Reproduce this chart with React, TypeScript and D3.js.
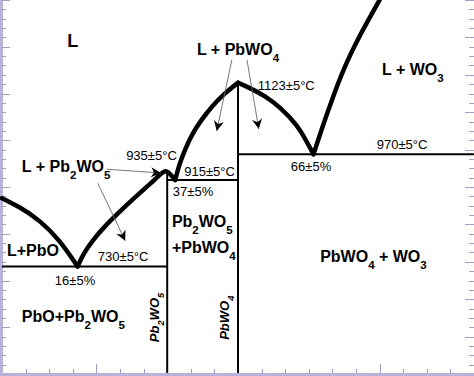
import * as d3 from 'd3';
import React, { useEffect, useRef } from 'react';

// liquidus branches: [mol% WO3, T °C]
const leftLiquidus = [[0, 876], [3.8, 857], [8, 829], [12.3, 786], [16, 730]];
const pb2wo5Branch = [[16, 730], [17.4, 760], [19.3, 787], [21.6, 814], [24.4, 842], [27.5, 872], [30.9, 902], [33.5, 927], [34.7, 937], [35.7, 927], [36.7, 915]];
const pbwo4Left = [[36.7, 915], [37.5, 947], [38.8, 981], [40.25, 1013], [42.2, 1043], [44.5, 1073], [47, 1099], [50, 1123]];
const pbwo4Right = [[50, 1123], [52.5, 1112], [55.7, 1095], [58.9, 1071], [62.5, 1033], [64.4, 1000], [66, 970]];
const wo3Liquidus = [[66, 970], [67.8, 1026], [69.5, 1075], [72.2, 1150], [75.8, 1225], [80, 1300]];

// invariant lines
const isotherms = [
  { t: 730, from: 0, to: 35 },
  { t: 915, from: 35, to: 50 },
  { t: 970, from: 50, to: 100 },
];
const compounds = [
  { c: 35, top: 935 },
  { c: 50, top: 1123 },
];

// annotations, placed in data units
const labels = [
  { text: 'L', c: 13.8, t: 1199, size: 18, bold: true },
  { text: 'L + PbWO_4', c: 41.3, t: 1182, size: 16, bold: true },
  { text: 'L + WO_3', c: 80.5, t: 1140, size: 16, bold: true },
  { text: '1123±5°C', c: 54.2, t: 1107, size: 13 },
  { text: 'L + Pb_2WO_5', c: 4.2, t: 932, size: 16, bold: true },
  { text: '935±5°C', c: 26.3, t: 958, size: 13 },
  { text: '915±5°C', c: 38.6, t: 923.5, size: 13 },
  { text: '37±5%', c: 36.2, t: 881, size: 13 },
  { text: 'Pb_2WO_5', c: 36, t: 814, size: 16, bold: true },
  { text: '+PbWO_4', c: 36, t: 759, size: 16, bold: true },
  { text: '66±5%', c: 61.2, t: 934, size: 13 },
  { text: '970±5°C', c: 79.4, t: 981, size: 13 },
  { text: 'L+PbO', c: 1.05, t: 752, size: 16, bold: true },
  { text: '730±5°C', c: 20.3, t: 742, size: 13 },
  { text: '16±5%', c: 11.2, t: 690, size: 13 },
  { text: 'PbO+Pb_2WO_5', c: 4.2, t: 611, size: 16, bold: true },
  { text: 'PbWO_4 + WO_3', c: 67.4, t: 740, size: 16, bold: true },
];
const phaseNames = [
  { text: 'Pb_2WO_5', c: 33.3, t: 568 },
  { text: 'PbWO_4', c: 48.1, t: 573 },
];
const arrows = [
  [[48.7, 1172], [45.5, 1020]],
  [[51.9, 1172], [54.4, 1024]],
  [[22.2, 938], [33.7, 930]],
  [[20.3, 908], [26.1, 785]],
];

const W = 474;
const H = 376;
const FONT = '"Liberation Sans", Arial, sans-serif';

const addRich = (sel, str, shift) => {
  const parts = str.split(/(_\d)/).filter(p => p !== '');
  let down = false;
  parts.forEach(p => {
    if (p[0] === '_') {
      sel.append('tspan').attr('dy', shift).attr('font-size', '0.72em').text(p.slice(1));
      down = true;
    } else {
      const ts = sel.append('tspan').text(p);
      if (down) { ts.attr('dy', -shift); down = false; }
    }
  });
};

const App = () => {
  const ref = useRef();

  useEffect(() => {
    document.body.style.margin = '0';
    const svg = d3.select(ref.current);
    svg.selectAll('*').remove();

    const x = d3.scaleLinear().domain([0, 100]).range([2, 474]);
    const y = d3.scaleLinear().domain([500, 1300]).range([374, 0]);

    const axisCol = '#b9b3d9';
    const tickCol = '#a39ec6';

    // frame bands
    svg.append('line').attr('x1', 1.5).attr('x2', 1.5).attr('y1', 0).attr('y2', H)
      .attr('stroke', axisCol).attr('stroke-width', 3);
    svg.append('line').attr('x1', 0).attr('x2', W).attr('y1', 374.5).attr('y2', 374.5)
      .attr('stroke', axisCol).attr('stroke-width', 3);

    // left ticks
    svg.append('g').selectAll('line')
      .data(d3.range(520, 1301, 20))
      .enter().append('line')
      .attr('x1', 2).attr('x2', d => (d % 100 === 0 ? 10 : 6))
      .attr('y1', d => Math.round(y(d)) + 0.5).attr('y2', d => Math.round(y(d)) + 0.5)
      .attr('stroke', tickCol).attr('stroke-width', 1);

    // right ticks
    svg.append('g').selectAll('line')
      .data(d3.range(520, 1301, 20))
      .enter().append('line')
      .attr('x1', W).attr('x2', d => ((d - 500) % 80 === 0 ? W - 9 : W - 5))
      .attr('y1', d => Math.round(y(d)) + 0.5).attr('y2', d => Math.round(y(d)) + 0.5)
      .attr('stroke', tickCol).attr('stroke-width', 1);

    // bottom ticks
    svg.append('g').selectAll('line')
      .data(d3.range(5, 100, 5))
      .enter().append('line')
      .attr('x1', d => Math.round(x(d)) + 0.5).attr('x2', d => Math.round(x(d)) + 0.5)
      .attr('y1', 373).attr('y2', d => (d === 20 || d === 80 ? 364 : 369))
      .attr('stroke', tickCol).attr('stroke-width', 1);

    // invariant lines
    svg.append('g').selectAll('line')
      .data(isotherms)
      .enter().append('line')
      .attr('x1', d => x(d.from)).attr('x2', d => x(d.to))
      .attr('y1', d => y(d.t)).attr('y2', d => y(d.t))
      .attr('stroke', '#000').attr('stroke-width', 2);

    svg.append('g').selectAll('line')
      .data(compounds)
      .enter().append('line')
      .attr('x1', d => x(d.c)).attr('x2', d => x(d.c))
      .attr('y1', d => y(d.top)).attr('y2', 373)
      .attr('stroke', '#000').attr('stroke-width', 2);

    // liquidus
    const line = d3.line()
      .x(d => x(d[0]))
      .y(d => y(d[1]))
      .curve(d3.curveBasis);

    svg.append('g').selectAll('path')
      .data([leftLiquidus, pb2wo5Branch, pbwo4Left, pbwo4Right, wo3Liquidus])
      .enter().append('path')
      .attr('d', line)
      .attr('fill', 'none')
      .attr('stroke', '#000')
      .attr('stroke-width', 4.5)
      .attr('stroke-linecap', 'round')
      .attr('stroke-linejoin', 'round');

    // arrows
    svg.append('defs').append('marker')
      .attr('id', 'head')
      .attr('markerUnits', 'userSpaceOnUse')
      .attr('markerWidth', 12).attr('markerHeight', 12)
      .attr('refX', 10).attr('refY', 5)
      .attr('orient', 'auto')
      .append('path')
      .attr('d', 'M0,0 L10,5 L0,10 L3,5 Z')
      .attr('fill', '#000');

    svg.append('g').selectAll('line')
      .data(arrows)
      .enter().append('line')
      .attr('x1', d => x(d[0][0])).attr('y1', d => y(d[0][1]))
      .attr('x2', d => x(d[1][0])).attr('y2', d => y(d[1][1]))
      .attr('stroke', '#666').attr('stroke-width', 0.9)
      .attr('marker-end', 'url(#head)');

    // labels
    labels.forEach(l => {
      const t = svg.append('text')
        .attr('x', x(l.c)).attr('y', y(l.t))
        .attr('font-family', FONT)
        .attr('font-size', l.size)
        .attr('font-weight', l.bold ? 'bold' : 'normal')
        .attr('fill', '#000');
      addRich(t, l.text, l.bold ? 7 : 5);
    });

    phaseNames.forEach(p => {
      const t = svg.append('text')
        .attr('transform', `translate(${x(p.c)},${y(p.t)}) rotate(-90)`)
        .attr('font-family', FONT)
        .attr('font-size', 13)
        .attr('font-weight', 'bold')
        .attr('font-style', 'italic')
        .attr('fill', '#000');
      addRich(t, p.text, 5);
    });
  }, []);

  return (
    <svg ref={ref} width={W} height={H} style={{ display: 'block', background: '#fff' }}></svg>
  );
};

export default App;
